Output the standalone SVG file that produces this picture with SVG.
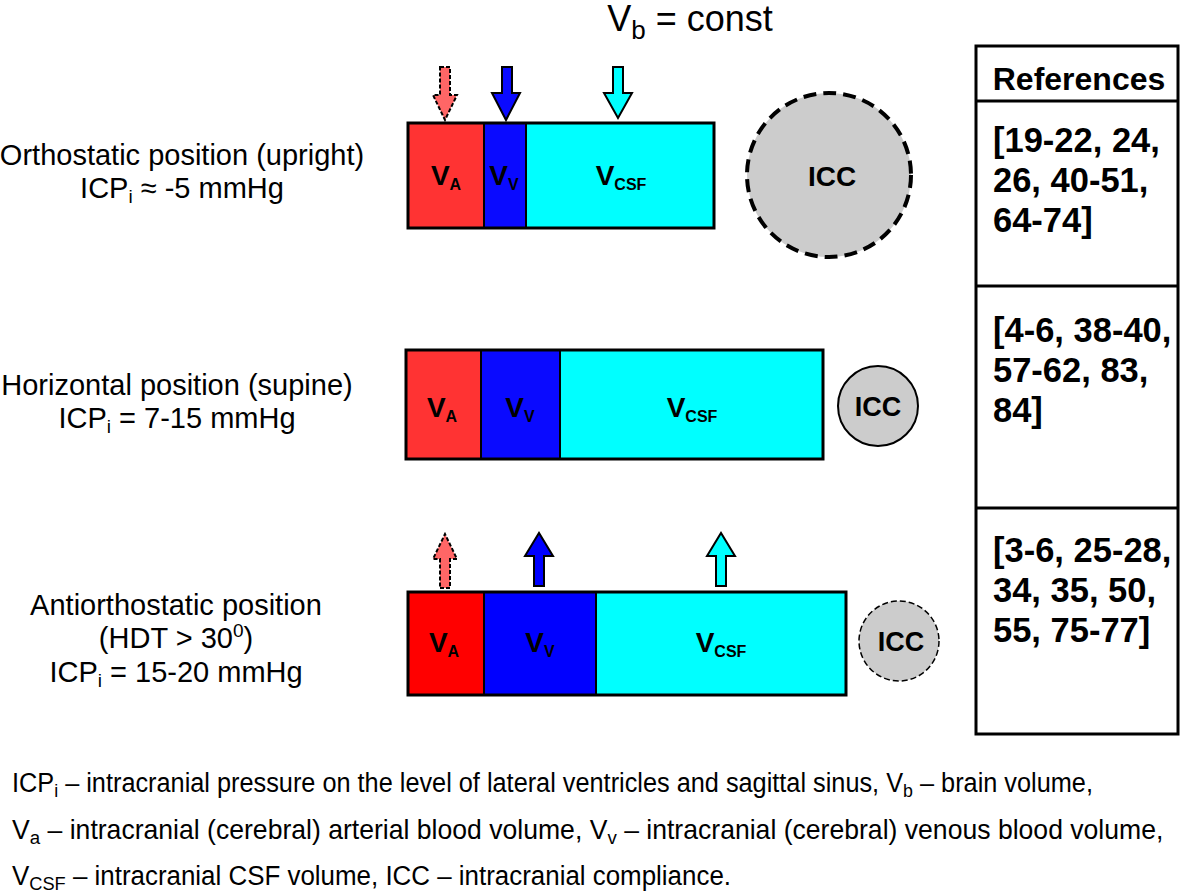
<svg xmlns="http://www.w3.org/2000/svg" width="1181" height="894" viewBox="0 0 1181 894">
<style>
.lbl{font-family:"Liberation Sans",Arial,sans-serif;font-size:29px;fill:#000;text-anchor:middle}
.bv{font-family:"Liberation Sans",Arial,sans-serif;font-weight:bold;font-size:28px;fill:#000;text-anchor:middle}
.sub{font-size:16px}
.icc{font-family:"Liberation Sans",Arial,sans-serif;font-weight:bold;fill:#000;text-anchor:middle}
.ref{font-family:"Liberation Sans",Arial,sans-serif;font-weight:bold;font-size:34.5px;fill:#000}
.foot{font-family:"Liberation Sans",Arial,sans-serif;font-size:27px;fill:#000}
.bar{stroke:#000;stroke-width:2}
.frame{fill:none;stroke:#000;stroke-width:3}
.arr{stroke:#000;stroke-width:2;stroke-linejoin:miter}
.arrd{stroke:#000;stroke-width:2;stroke-dasharray:4,2}
</style>
<text x="690" y="31" class="lbl" style="font-size:36px">V<tspan class="sub" style="font-size:26px" dy="8">b</tspan><tspan dy="-8"> = const</tspan></text>

<g id="row1">
<text x="182" y="165" class="lbl">Orthostatic position (upright)</text>
<text x="182" y="198" class="lbl">ICP<tspan style="font-size:19px" dy="5">i</tspan><tspan dy="-5"> ≈ -5 mmHg</tspan></text>
<rect x="408" y="123" width="76" height="105" fill="#ff3333" class="bar"/>
<rect x="484" y="123" width="42" height="105" fill="#0a0aff" class="bar"/>
<rect x="526" y="123" width="188" height="105" fill="#00ffff" class="bar"/>
<rect x="408" y="123" width="306" height="105" class="frame"/>
<text x="446" y="185" class="bv">V<tspan class="sub" dy="5">A</tspan></text>
<text x="504" y="185" class="bv">V<tspan class="sub" dy="5">V</tspan></text>
<text x="621" y="185" class="bv">V<tspan class="sub" dy="5">CSF</tspan></text>
<circle cx="829" cy="175" r="82" fill="#cccccc" stroke="#000" stroke-width="4" stroke-dasharray="13,7"/>
<text x="832" y="186" class="icc" style="font-size:28px">ICC</text>
</g>

<g id="row2">
<text x="177" y="395" class="lbl">Horizontal position (supine)</text>
<text x="177" y="428" class="lbl">ICP<tspan style="font-size:19px" dy="5">i</tspan><tspan dy="-5"> = 7-15 mmHg</tspan></text>
<rect x="406" y="350" width="75" height="109" fill="#ff3333" class="bar"/>
<rect x="481" y="350" width="79" height="109" fill="#0a0aff" class="bar"/>
<rect x="560" y="350" width="263" height="109" fill="#00ffff" class="bar"/>
<rect x="406" y="350" width="417" height="109" class="frame"/>
<text x="442" y="417" class="bv">V<tspan class="sub" dy="5">A</tspan></text>
<text x="520" y="417" class="bv">V<tspan class="sub" dy="5">V</tspan></text>
<text x="692" y="417" class="bv">V<tspan class="sub" dy="5">CSF</tspan></text>
<circle cx="878" cy="406" r="40" fill="#cccccc" stroke="#000" stroke-width="2"/>
<text x="878" y="416" class="icc" style="font-size:27px">ICC</text>
</g>

<g id="row3">
<text x="176" y="615" class="lbl">Antiorthostatic position</text>
<text x="176" y="648" class="lbl">(HDT &gt; 30<tspan style="font-size:19px" dy="-11">0</tspan><tspan dy="11">)</tspan></text>
<text x="176" y="682" class="lbl">ICP<tspan style="font-size:19px" dy="5">i</tspan><tspan dy="-5"> = 15-20 mmHg</tspan></text>
<rect x="408" y="592" width="76" height="103" fill="#ff0000" class="bar"/>
<rect x="484" y="592" width="112" height="103" fill="#0000ff" class="bar"/>
<rect x="596" y="592" width="250" height="103" fill="#00ffff" class="bar"/>
<rect x="408" y="592" width="438" height="103" class="frame"/>
<text x="444" y="652" class="bv">V<tspan class="sub" dy="5">A</tspan></text>
<text x="540" y="652" class="bv">V<tspan class="sub" dy="5">V</tspan></text>
<text x="721" y="652" class="bv">V<tspan class="sub" dy="5">CSF</tspan></text>
<circle cx="899" cy="641" r="40" fill="#cccccc" stroke="#000" stroke-width="1.5" stroke-dasharray="6,3"/>
<text x="901" y="651" class="icc" style="font-size:27px">ICC</text>
</g>

<g id="connectors">
<polygon points="440,67 450,67 450,95 457,95 445,120 433,95 440,95" fill="#ff6666" class="arrd"/>
<polygon points="502,67 512,67 512,93 520,93 506,120 492,93 502,93" fill="#0a0aff" class="arr"/>
<polygon points="613,67 623,67 623,93 632,93 618,118 604,93 613,93" fill="#00ffff" class="arr"/>
<polygon points="440,588 450,588 450,559 457,559 445,534 433,559 440,559" fill="#ff6666" class="arrd"/>
<polygon points="534,586 544,586 544,556 553,556 539,533 525,556 534,556" fill="#0000ff" class="arr"/>
<polygon points="716,586 726,586 726,556 735,556 721,533 707,556 716,556" fill="#00ffff" class="arr"/>
</g>

<g id="references">
<rect x="976" y="46" width="202" height="688" class="frame"/>
<line x1="976" y1="101" x2="1178" y2="101" stroke="#000" stroke-width="3"/>
<line x1="976" y1="286" x2="1178" y2="286" stroke="#000" stroke-width="3"/>
<line x1="976" y1="508" x2="1178" y2="508" stroke="#000" stroke-width="3"/>
<text x="1079" y="90" class="ref" style="font-size:32px;text-anchor:middle">References</text>
<text x="993" y="152" class="ref">[19-22, 24,</text>
<text x="993" y="192" class="ref">26, 40-51,</text>
<text x="993" y="232" class="ref">64-74]</text>
<text x="993" y="342" class="ref">[4-6, 38-40,</text>
<text x="993" y="382" class="ref">57-62, 83,</text>
<text x="993" y="422" class="ref">84]</text>
<text x="993" y="562" class="ref">[3-6, 25-28,</text>
<text x="993" y="602" class="ref">34, 35, 50,</text>
<text x="993" y="642" class="ref">55, 75-77]</text>
</g>

<g id="legend">
<text transform="translate(12,792) scale(0.937,1)" class="foot">ICP<tspan font-size="19" dy="5">i</tspan><tspan dy="-5"> – intracranial pressure on the level of lateral ventricles and sagittal sinus, V</tspan><tspan font-size="19" dy="5">b</tspan><tspan dy="-5"> – brain volume,</tspan></text>
<text transform="translate(12,839) scale(0.985,1)" class="foot">V<tspan font-size="19" dy="5">a</tspan><tspan dy="-5"> – intracranial (cerebral) arterial blood volume, V</tspan><tspan font-size="19" dy="5">v</tspan><tspan dy="-5"> – intracranial (cerebral) venous blood volume,</tspan></text>
<text transform="translate(12,885) scale(0.96,1)" class="foot">V<tspan font-size="19" dy="5">CSF</tspan><tspan dy="-5"> – intracranial CSF volume, ICC – intracranial compliance.</tspan></text>
</g>
</svg>
